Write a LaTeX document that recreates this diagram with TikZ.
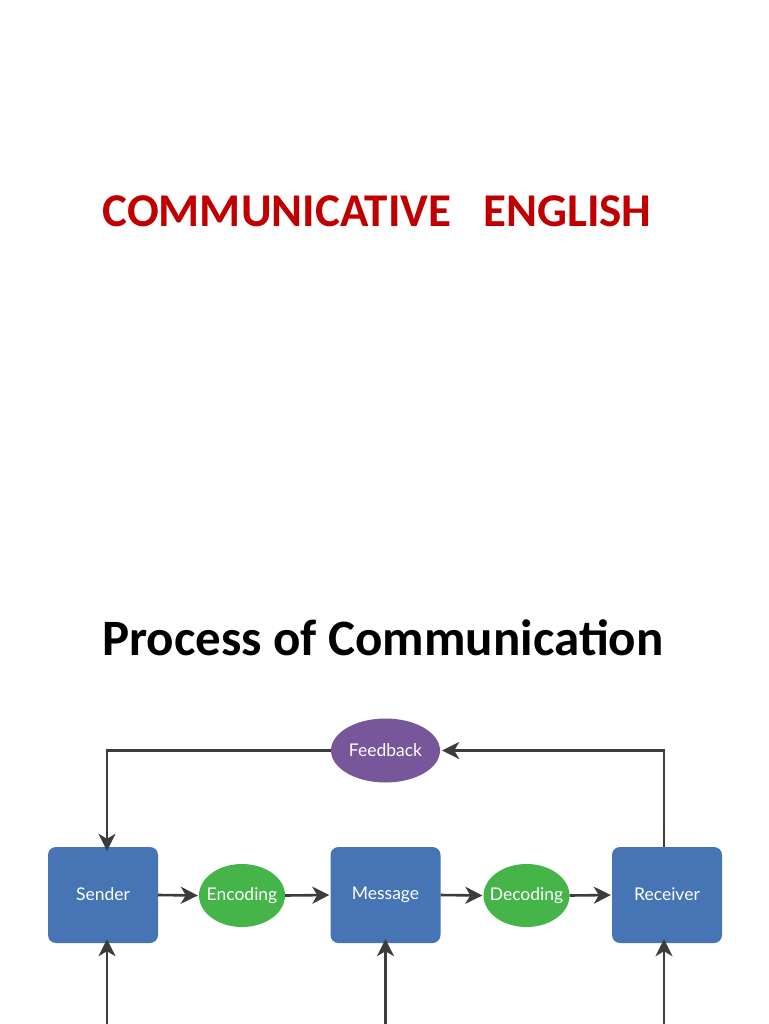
\documentclass[tikz,border=0pt]{standalone}
\usepackage{fontspec}
\setmainfont{Carlito}
\newfontfamily\boxfont{Lato}
\usetikzlibrary{arrows.meta,shapes.geometric}
\definecolor{titlered}{HTML}{C00000}
\definecolor{boxblue}{HTML}{4674B4}
\definecolor{ellgreen}{HTML}{45B549}
\definecolor{ellpurple}{HTML}{775799}
\definecolor{arrgray}{HTML}{3C3C3C}
\tikzset{
  boxtext/.style={text=white, font=\boxfont\fontsize{17.5}{20}\selectfont},
  procbox/.style={draw=none, fill=boxblue, rounded corners=8pt, minimum width=110pt, minimum height=96pt, inner sep=0pt, boxtext},
  ellnode/.style={ellipse, draw=none, fill=ellgreen, minimum width=86pt, minimum height=63pt, inner sep=0pt},
  conn/.style={draw=arrgray, line width=2.6pt, -{Stealth[length=17pt,width=17pt,inset=5pt]}},
}
\begin{document}
\begin{tikzpicture}[x=1pt,y=-1pt]
\useasboundingbox (0,0) rectangle (768,1024);
\fill[white] (0,0) rectangle (768,1024);
\node[text=titlered, font=\bfseries\fontsize{47}{56}\selectfont, anchor=center] (title) at (377,211) {COMMUNICATIVE\ \ \ ENGLISH};
\node[text=black, font=\bfseries\fontsize{51}{60}\selectfont, anchor=center] (sub) at (383,638) {Process of Communication};

\node[procbox] (sender) at (103,895) {\raisebox{1pt}{Sender}};
\node[ellnode] (enc) at (242,895.5) {};
\node[boxtext] (enctxt) at (enc.center) {Encoding};
\node[procbox] (msg) at (385.5,895) {\raisebox{1pt}{Message}};
\node[ellnode] (dec) at (526.5,895.5) {};
\node[boxtext] (dectxt) at (dec.center) {Decoding};
\node[procbox] (recv) at (667,895) {\raisebox{1pt}{Receiver}};
\node[ellnode, fill=ellpurple, minimum width=109pt, minimum height=64pt] (fb) at (385.5,750.5) {};
\node[boxtext] (fbtxt) at (fb.center) {Feedback};

\coordinate (sb) at (107,1026);
\coordinate (mb) at (385.5,1026);
\coordinate (rb) at (664,1026);

\draw[conn] (sender.east) -- ([xshift=-1pt]enc.west);
\draw[conn] (enc.east) -- ([xshift=-1pt]msg.west);
\draw[conn] (msg.east) -- ([xshift=-1pt]dec.west);
\draw[conn] (dec.east) -- ([xshift=-1pt]recv.west);
\draw[conn] (fb.west) -| ([yshift=-4pt]sender.north -| sb);
\draw[conn] (recv.north -| rb) |- ([xshift=2pt]fb.east);
\draw[conn] (sb) -- ([yshift=4pt]sender.south -| sb);
\draw[conn] (mb) -- ([yshift=4pt]msg.south);
\draw[conn] (rb) -- ([yshift=4pt]recv.south -| rb);
\end{tikzpicture}
\end{document}
